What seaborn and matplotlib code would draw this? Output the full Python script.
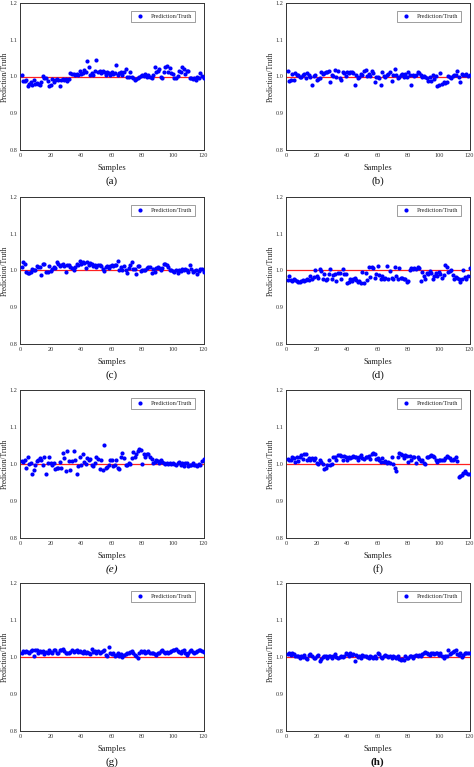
import numpy as np
import pandas as pd
import matplotlib
matplotlib.use("Agg")
import matplotlib.pyplot as plt
import seaborn as sns
from matplotlib.ticker import MultipleLocator

sns.set_theme(style="white")
plt.rcParams['font.family'] = ['Liberation Serif', 'DejaVu Serif']

samples = list(range(1, 121))
panel_labels = ["(a)", "(b)", "(c)", "(d)", "(e)", "(f)", "(g)", "(h)"]
reference_value = 1.0

ratio_a = [1.004,0.988,0.988,0.991,0.975,0.980,0.984,0.978,0.990,0.979,
           0.983,0.980,0.978,0.985,1.001,0.996,0.995,0.988,0.974,0.976,
           0.993,0.985,0.990,0.992,0.990,0.975,0.991,0.992,0.990,0.993,
           0.988,0.993,1.010,1.008,1.006,1.004,1.006,1.005,1.015,1.006,
           1.010,1.018,1.012,1.042,1.025,1.005,1.010,1.003,1.015,1.044,
           1.013,1.015,1.010,1.014,1.012,1.005,1.012,1.010,1.004,1.011,
           1.006,1.010,1.032,1.004,1.010,1.012,1.005,1.011,1.020,0.998,
           1.000,1.013,0.998,0.995,0.990,0.992,0.995,0.998,1.001,1.003,
           1.002,1.006,0.998,1.003,1.000,0.996,1.004,1.027,1.012,1.016,
           1.020,1.000,0.996,1.012,1.025,1.028,1.012,1.024,1.010,1.006,
           0.996,0.997,1.002,1.015,1.013,1.025,1.020,1.008,1.016,1.015,
           0.996,0.995,0.994,0.997,0.991,1.000,0.996,1.010,1.002,0.996]
ratio_b = [1.016,0.988,0.990,1.006,0.990,1.010,1.005,1.003,0.999,1.000,
           1.004,1.008,0.997,1.010,1.004,1.000,0.978,1.001,1.003,0.990,
           0.992,0.996,1.012,1.008,1.010,1.013,1.013,1.016,0.985,1.005,
           1.001,1.017,1.000,1.016,0.996,0.990,1.013,1.010,1.001,1.013,
           1.010,1.011,1.011,1.009,0.976,1.004,0.995,1.000,1.008,1.003,
           1.014,1.018,1.002,1.006,1.002,1.014,1.010,0.986,1.000,0.999,
           0.997,0.976,1.012,1.002,0.998,1.003,1.007,1.012,0.988,1.004,
           1.020,1.004,0.996,0.999,1.005,1.008,1.000,1.006,0.998,1.012,
           1.003,0.976,1.003,1.002,1.005,1.012,1.010,1.005,0.999,1.002,
           1.000,0.995,0.987,0.998,0.987,1.005,0.994,1.001,0.973,0.976,
           1.010,0.980,0.985,0.983,0.986,1.002,0.999,0.996,1.001,1.005,
           1.004,1.016,1.000,0.985,1.008,1.004,1.003,1.006,1.002,1.005]
ratio_c = [1.010,1.022,1.018,0.997,0.994,0.994,0.996,1.005,1.002,1.000,
           1.012,1.010,1.010,0.988,1.018,1.018,0.996,0.995,1.013,0.998,
           1.003,1.010,1.008,1.022,1.018,1.012,1.014,1.018,1.012,0.996,
           1.014,1.014,1.010,1.006,1.002,1.010,1.018,1.016,1.026,1.018,
           1.024,1.020,1.006,1.022,1.015,1.020,1.018,1.012,1.016,1.010,
           1.016,1.014,1.012,1.004,0.998,1.010,1.012,1.008,1.012,1.014,
           1.012,1.016,1.014,1.026,1.000,1.010,1.002,1.012,1.000,0.994,
           1.006,1.016,1.022,1.004,1.004,0.990,1.012,1.012,0.998,1.002,
           1.000,1.002,1.008,1.010,1.010,0.994,1.004,0.996,1.006,1.010,
           1.008,1.002,1.008,1.018,1.018,1.016,1.010,1.002,1.000,0.998,
           0.996,1.002,0.994,1.002,0.998,1.004,1.000,1.004,1.002,0.996,
           1.014,1.004,0.996,0.998,1.000,0.990,0.998,1.004,1.004,0.996]
ratio_d = [0.975,0.985,0.975,0.972,0.978,0.974,0.972,0.970,0.970,0.972,
           0.975,0.972,0.974,0.976,0.974,0.986,0.978,0.982,1.000,0.986,
           0.980,1.004,0.998,0.976,0.990,0.974,0.978,0.990,1.004,0.978,
           0.988,0.990,0.972,0.992,0.994,0.978,1.004,0.990,0.990,0.966,
           0.968,0.978,0.972,0.976,0.980,0.974,0.968,0.972,0.966,0.995,
           0.966,0.992,0.974,1.010,0.982,1.010,1.008,0.980,0.990,1.012,
           0.988,0.978,0.984,0.978,0.980,1.012,0.976,0.998,0.980,0.976,
           1.010,0.984,0.978,1.008,0.980,0.980,0.978,0.976,0.970,0.972,
           1.002,1.008,1.004,1.008,1.004,1.010,1.008,0.972,0.996,0.984,
           0.976,0.994,0.990,0.998,0.994,0.978,0.986,0.992,0.984,0.996,
           0.990,0.980,0.988,1.014,1.010,0.996,0.998,1.002,0.988,0.976,
           0.982,0.980,0.978,0.970,0.978,1.000,0.982,0.976,0.986,1.008]
ratio_e = [1.008,1.006,1.012,0.988,1.018,1.000,1.002,0.974,0.984,0.996,
           1.008,1.010,1.016,1.010,0.998,1.018,0.974,1.004,1.018,1.002,
           0.996,1.004,0.986,0.990,0.990,1.006,0.990,1.030,1.016,0.982,
           1.034,1.008,0.984,1.008,1.034,1.010,0.974,0.994,1.020,0.998,
           1.028,1.006,1.000,1.016,1.010,1.014,0.996,0.994,1.004,1.018,
           1.014,0.986,1.010,0.984,1.050,0.988,0.992,0.998,1.010,1.012,
           0.994,0.996,1.012,0.988,0.986,1.018,1.030,1.016,0.996,0.998,
           1.004,1.000,1.016,1.032,1.020,1.028,1.036,1.040,1.038,1.000,
           1.026,1.020,1.026,1.026,1.018,1.014,1.004,1.006,1.010,1.008,
           1.004,1.010,1.006,1.004,1.000,1.002,1.000,1.004,1.000,1.004,
           1.000,0.998,1.002,1.006,0.996,1.004,0.994,1.002,1.004,0.994,
           0.996,0.998,1.002,0.996,0.998,0.994,1.000,0.996,1.008,1.014]
ratio_f = [1.014,1.012,1.010,1.020,1.016,1.006,1.018,1.008,1.020,1.024,
           1.014,1.026,1.028,1.012,1.016,1.010,1.016,1.012,1.016,1.002,
           1.000,1.012,1.006,1.000,0.986,0.990,0.996,1.010,0.998,1.000,
           1.018,1.020,1.012,1.024,1.024,1.022,1.012,1.022,1.018,1.012,
           1.020,1.016,1.020,1.022,1.020,1.020,1.012,1.020,1.024,1.016,
           1.014,1.020,1.018,1.022,1.014,1.028,1.030,1.026,1.014,1.016,
           1.012,1.006,1.016,1.006,1.008,1.004,1.006,1.004,1.020,1.000,
           0.990,0.980,1.020,1.030,1.026,1.024,1.016,1.024,1.022,1.006,
           1.022,1.012,1.020,1.018,1.004,1.018,1.014,1.008,1.010,1.004,
           1.000,1.020,1.020,1.022,1.024,1.022,1.020,1.010,1.006,1.012,
           1.010,1.012,1.012,1.016,1.022,1.020,1.016,1.012,1.010,1.014,
           1.018,1.008,0.966,0.968,0.970,0.976,0.980,0.976,0.974,0.972]
ratio_g = [1.012,1.016,1.014,1.016,1.014,1.012,1.016,1.018,1.004,1.020,
           1.018,1.012,1.016,1.014,1.016,1.008,1.014,1.012,1.018,1.014,
           1.012,1.018,1.018,1.012,1.010,1.018,1.020,1.022,1.016,1.012,
           1.010,1.012,1.014,1.018,1.014,1.016,1.018,1.014,1.016,1.014,
           1.010,1.016,1.012,1.014,1.012,1.008,1.022,1.014,1.016,1.012,
           1.016,1.012,1.014,1.016,1.018,1.006,1.004,1.028,1.010,1.008,
           1.012,1.004,1.006,1.010,1.004,1.008,1.000,1.006,1.008,1.012,
           1.010,1.014,1.016,1.012,1.006,1.004,0.996,1.010,1.016,1.014,
           1.016,1.012,1.014,1.016,1.012,1.012,1.010,1.008,1.006,1.010,
           1.012,1.016,1.018,1.014,1.012,1.014,1.010,1.014,1.016,1.018,
           1.020,1.022,1.016,1.014,1.010,1.016,1.018,1.010,1.006,1.012,
           1.016,1.018,1.014,1.010,1.014,1.016,1.020,1.018,1.016,1.014]
ratio_h = [1.008,1.012,1.006,1.010,1.008,1.004,1.002,1.004,0.998,1.002,
           1.000,1.006,0.998,0.994,1.006,1.008,1.002,0.996,0.998,1.004,
           1.006,0.990,0.994,1.000,1.004,1.002,0.998,1.004,1.002,0.998,
           1.002,1.008,1.000,0.996,1.000,1.004,1.000,1.004,1.012,1.008,
           1.004,1.010,1.006,1.008,0.990,1.006,1.000,1.004,0.998,1.006,
           1.004,1.002,1.000,0.998,1.004,1.000,0.996,1.002,0.998,1.012,
           1.008,1.000,0.998,1.002,1.006,1.004,1.000,1.004,0.998,1.002,
           1.000,0.998,1.002,0.994,0.992,0.994,0.992,1.002,0.996,0.998,
           1.004,1.002,0.998,1.004,1.006,1.004,1.006,1.004,1.008,1.012,
           1.014,1.010,1.008,1.006,1.012,1.010,1.008,1.010,1.012,1.006,
           1.010,1.002,0.998,1.002,1.004,1.020,1.008,1.012,1.014,1.016,
           1.018,1.008,1.006,1.010,1.000,1.006,1.010,1.012,1.010,1.012]

series = [ratio_a, ratio_b, ratio_c, ratio_d, ratio_e, ratio_f, ratio_g, ratio_h]

W, H = 474, 767
fig = plt.figure(figsize=(W / 100, H / 100), dpi=100)
fig.patch.set_facecolor("white")

col_x = [(20, 203.5), (286, 469.5)]
row_y = [(3, 150), (197, 344), (390, 538), (583, 731)]
label_styles = [dict(), dict(), dict(), dict(), dict(style="italic"), dict(),
                dict(), dict(weight="bold")]

for i, vals in enumerate(series):
    r, c = divmod(i, 2)
    x0, x1 = col_x[c]
    y0, y1 = row_y[r]
    aw, ah = x1 - x0, y1 - y0
    ax = fig.add_axes([x0 / W, 1 - y1 / H, aw / W, ah / H])
    df = pd.DataFrame({"Samples": samples, "Ratio": vals})
    ax.axhline(reference_value, color="#ff2020", lw=0.9, zorder=2)
    sns.scatterplot(data=df, x="Samples", y="Ratio", ax=ax, color="#0000ff",
                    s=9, linewidth=0, label="Prediction/Truth", zorder=3)
    ax.set_xlim(0, 120)
    ax.set_ylim(0.8, 1.2)
    ax.xaxis.set_major_locator(MultipleLocator(20))
    ax.xaxis.set_minor_locator(MultipleLocator(10))
    ax.yaxis.set_major_locator(MultipleLocator(0.1))
    ax.yaxis.set_minor_locator(MultipleLocator(0.05))
    ax.yaxis.set_major_formatter(matplotlib.ticker.FormatStrFormatter("%.1f"))
    ax.tick_params(which="both", direction="in", labelsize=4.5, colors="#333333",
                   width=0.5, pad=2)
    ax.tick_params(which="major", length=2.5)
    ax.tick_params(which="minor", length=1.5)
    for sp in ax.spines.values():
        sp.set_color("#333333")
        sp.set_linewidth(0.7)
    ax.set_xlabel("Samples", fontsize=6, color="#222222")
    ax.xaxis.set_label_coords(0.5, -14 / ah)
    ax.set_ylabel("Prediction/Truth", fontsize=5.5, color="#222222")
    ax.yaxis.set_label_coords(-11.5 / aw, 0.5)
    leg = ax.legend(loc="upper right", fontsize=4.5, frameon=True, fancybox=False,
                    borderpad=0.5, handletextpad=0.6, markerscale=1.0,
                    bbox_to_anchor=(0.97, 0.97))
    leg.get_frame().set_edgecolor("#555555")
    leg.get_frame().set_linewidth(0.5)
    ax.text(0.5, -31 / ah, panel_labels[i], transform=ax.transAxes, ha="center",
            va="center", fontsize=8, color="#111111", **label_styles[i])

fig.savefig("out.png", dpi=100, facecolor="white")
